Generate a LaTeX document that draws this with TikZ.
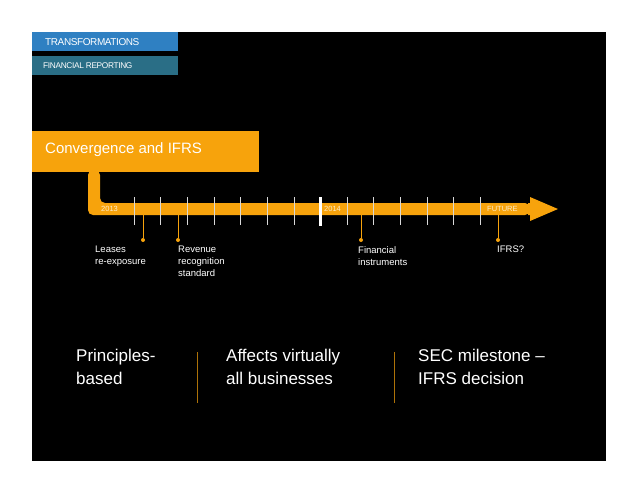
\documentclass[tikz,border=0pt]{standalone}
\usepackage{fontspec}
\setmainfont{Liberation Sans}
\begin{document}
\begin{tikzpicture}[x=1pt,y=-1pt,
  org/.style={fill=orangeC,draw=none},
  tick/.style={draw=white!85!black,line width=0.8pt},
  small/.style={text=white,font=\fontsize{9.5}{12}\selectfont,align=left,anchor=north west,inner sep=0pt},
  big/.style={text=white,font=\fontsize{17}{23}\selectfont,align=left,anchor=north west,inner sep=0pt},
  yr/.style={text=white!80!orangeC,font=\fontsize{7.5}{9}\selectfont,anchor=west,inner sep=0pt},
  call/.style={draw=orangeC,line width=0.8pt},
  dot/.style={circle,fill=orangeC,inner sep=0pt,minimum size=4pt}]
\definecolor{orangeC}{HTML}{F7A30C}
\definecolor{blueC}{HTML}{2F80C2}
\definecolor{tealC}{HTML}{2A6E86}
\useasboundingbox (0,0) rectangle (638,493);
\fill[white] (0,0) rectangle (638,493);
\fill[black] (32,32) rectangle (606,461);
\fill[blueC] (32,32) rectangle (178,51);
\node[text=white,font=\fontsize{10}{12}\selectfont,anchor=west,inner sep=0pt] (t1) at (45,42) {\addfontfeature{LetterSpace=-4}TRANSFORMATIONS};
\fill[tealC] (32,56) rectangle (178,75);
\node[text=white,font=\fontsize{8.3}{10}\selectfont,anchor=west,inner sep=0pt] (t2) at (43,66) {\addfontfeature{LetterSpace=-4}FINANCIAL REPORTING};
% orange title and bar
\fill[orangeC] (32,131) rectangle (259,172);
\node[text=white,font=\fontsize{15}{18}\selectfont,anchor=west,inner sep=0pt] (title) at (45,150) {Convergence and IFRS};
\fill[orangeC,rounded corners=5pt] (88,170) -- (100,170) -- (100,203) -- (530,203) -- (530,215) -- (88,215) -- cycle;
\fill[orangeC] (528,203) -- (530,203) -- (530,197) -- (558,209) -- (530,221) -- (530,215) -- (528,215) -- cycle;
\foreach \x in {134,160,187,214,240,267,294,347,373,400,427,453,480}{\draw[tick] (\x,197) -- (\x,225);}
\fill[white] (318.5,197) rectangle (321.5,226);
\node[yr] (y1) at (101,209) {2013};
\node[yr] (y2) at (324,209) {2014};
\node[yr] (y3) at (487,209) {FUTURE};
% callouts
\node[dot] (d1) at (143,240) {};
\node[dot] (d2) at (178,240) {};
\node[dot] (d3) at (361,240) {};
\node[dot] (d4) at (498,240) {};
\coordinate (c1) at (143,215); \coordinate (c2) at (178,215);
\coordinate (c3) at (361,215); \coordinate (c4) at (498,215);
\draw[call] (c1) -- (d1); \draw[call] (c2) -- (d2);
\draw[call] (c3) -- (d3); \draw[call] (c4) -- (d4);
\node[small] (l1) at (95,246) {Leases\\re-exposure};
\node[small] (l2) at (178,246) {Revenue\\recognition\\standard};
\node[small] (l3) at (358,246) {Financial\\instruments};
\node[small] (l4) at (497,246) {IFRS?};
% bottom
\node[big] (b1) at (76,349) {Principles-\\based};
\node[big] (b2) at (226,349) {Affects virtually\\all businesses};
\node[big] (b3) at (418,349) {SEC milestone \textendash\\IFRS decision};
\draw[draw=orangeC!70!black,line width=0.8pt] (197,352) -- (197,403);
\draw[draw=orangeC!70!black,line width=0.8pt] (394,352) -- (394,403);
\end{tikzpicture}
\end{document}
